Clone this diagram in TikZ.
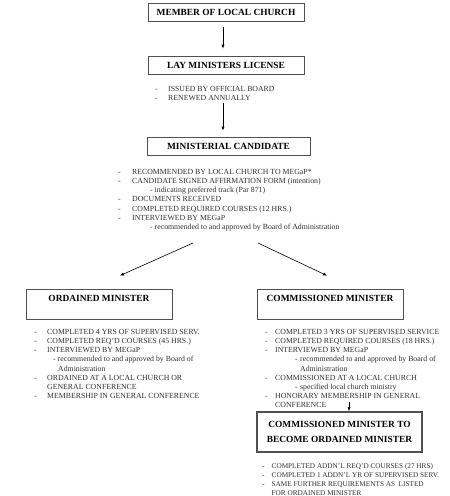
\documentclass[tikz,border=0pt]{standalone}
\usepackage{fontspec}
\setmainfont{Liberation Serif}
\usetikzlibrary{arrows.meta,positioning,calc}
\definecolor{boxgrey}{HTML}{505050}
\definecolor{txtgrey}{HTML}{2E2E2E}
\newcommand{\dashitem}[2][13pt]{\makebox[#1][l]{-}#2}
\tikzset{
  >={Latex[length=4pt,width=3.2pt]},
  titlebox/.style={draw=boxgrey,line width=0.8pt,inner sep=0pt,align=center,
                   font=\fontsize{9.4}{11}\selectfont\bfseries},
  bigbox/.style={titlebox,line width=1.4pt,
                 font=\fontsize{9.4}{14.5}\selectfont\bfseries},
  listtext/.style={anchor=north west,inner sep=0pt,align=left,text=txtgrey,
                   font=\fontsize{7.8}{9.2}\selectfont},
  flow/.style={->,line width=0.6pt,draw=black},
}
\begin{document}
\begin{tikzpicture}[x=1pt,y=-1pt]
  \useasboundingbox (0,0) rectangle (450,496);

  % top chain
  \node[titlebox,minimum width=156pt,minimum height=18pt] (member) at (226,12)
    {MEMBER OF LOCAL CHURCH};
  \node[titlebox,minimum width=156pt,minimum height=18pt] (lay) at (226,65)
    {LAY MINISTERS LICENSE};
  \node[listtext] (laylist) at (155,86)
    {\dashitem{ISSUED BY OFFICIAL BOARD}\\
     \dashitem{RENEWED ANNUALLY}};
  \node[titlebox,minimum width=163pt,minimum height=18pt] (cand) at (228.5,146)
    {MINISTERIAL CANDIDATE};
  \node[listtext] (candlist) at (118,169)
    {\dashitem[14pt]{RECOMMENDED BY LOCAL CHURCH TO MEGaP*}\\
     \dashitem[14pt]{CANDIDATE SIGNED AFFIRMATION FORM (intention)}\\
     \hspace*{32pt}- indicating preferred track (Par 871)\\
     \dashitem[14pt]{DOCUMENTS RECEIVED}\\
     \dashitem[14pt]{COMPLETED REQUIRED COURSES (12 HRS.)}\\
     \dashitem[14pt]{INTERVIEWED BY MEGaP}\\
     \hspace*{32pt}- recommended to and approved by Board of Administration};

  \coordinate (layarr) at (223,103);
  \coordinate (splitl) at (193,243);
  \coordinate (splitr) at (258,243);
  \coordinate (commarr) at (349,402);

  \draw[flow] ([xshift=-3pt,yshift=-6pt]member.south) -- ([xshift=-3pt,yshift=7pt]lay.north);
  \draw[flow] (layarr) -- ([xshift=-5.5pt,yshift=6pt]cand.north);

  % two tracks
  \node[titlebox,minimum width=146pt,minimum height=30pt,text height=12pt,text depth=18pt]
    (ord) at (99,304) {ORDAINED MINISTER};
  \node[titlebox,minimum width=146pt,minimum height=30pt,text height=12pt,text depth=18pt]
    (comm) at (330,304) {COMMISSIONED MINISTER};

  \draw[flow] (splitl) -- ([xshift=21pt,yshift=13pt]ord.north);
  \draw[flow] (splitr) -- ([xshift=-3pt,yshift=13pt]comm.north);

  \node[listtext] (ordlist) at (34,329)
    {\dashitem{COMPLETED 4 YRS OF SUPERVISED SERV.}\\
     \dashitem{COMPLETED REQ'D COURSES (45 HRS.)}\\
     \dashitem{INTERVIEWED BY MEGaP}\\
     \hspace*{19pt}- recommended to and approved by Board of\\
     \hspace*{24pt}Administration\\
     \dashitem{ORDAINED AT A LOCAL CHURCH OR}\\
     \hspace*{13pt}GENERAL CONFERENCE\\
     \dashitem{MEMBERSHIP IN GENERAL CONFERENCE}};
  \node[listtext] (commlist) at (265,329)
    {\dashitem[10pt]{COMPLETED 3 YRS OF SUPERVISED SERVICE}\\
     \dashitem[10pt]{COMPLETED REQUIRED COURSES (18 HRS.)}\\
     \dashitem[10pt]{INTERVIEWED BY MEGaP}\\
     \hspace*{30pt}\dashitem[5pt]{recommended to and approved by Board of}\\
     \hspace*{35pt}Administration\\
     \dashitem[10pt]{COMMISSIONED AT A LOCAL CHURCH}\\
     \hspace*{30pt}\dashitem[5pt]{specified local church ministry}\\
     \dashitem[10pt]{HONORARY MEMBERSHIP IN GENERAL}\\
     \hspace*{10pt}CONFERENCE};

  % commissioned to ordained
  \node[bigbox,minimum width=165pt,minimum height=40pt] (final) at (339.5,432)
    {COMMISSIONED MINISTER TO\\BECOME ORDAINED MINISTER};
  \draw[flow] (commarr) -- ([xshift=9.5pt]final.north);
  \node[listtext,font=\fontsize{7.25}{9}\selectfont] (finallist) at (262,463)
    {\dashitem[9.5pt]{COMPLETED ADDN'L REQ'D COURSES (27 HRS)}\\
     \dashitem[9.5pt]{COMPLETED 1 ADDN'L YR OF SUPERVISED SERV.}\\
     \dashitem[9.5pt]{SAME FURTHER REQUIREMENTS AS~ LISTED}\\
     \hspace*{9.5pt}FOR ORDAINED MINISTER};
\end{tikzpicture}
\end{document}
